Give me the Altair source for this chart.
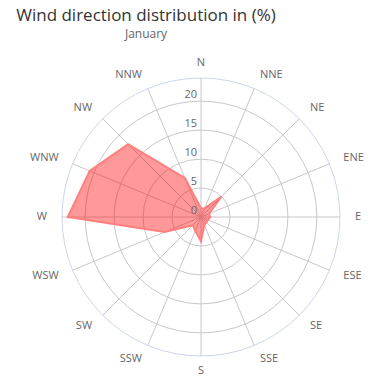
import math
import altair as alt
import pandas as pd

# ---- data ----
directions = ["N", "NNE", "NE", "ENE", "E", "ESE", "SE", "SSE",
              "S", "SSW", "SW", "WSW", "W", "WNW", "NW", "NNW"]
values = [1.5, 1.6, 5.0, 1.5, 1.6, 1.3, 1.3, 1.5,
          4.2, 2.6, 2.0, 6.8, 23.0, 20.8, 17.8, 7.3]
ring_values = [5, 10, 15, 20]
tick_values = [0, 5, 10, 15, 20]
tick_labels = ["0", "5", "10", "15", "20"]
r_max = 24
label_r = 26.6

FONT = "Open Sans"
GRID = "#c8c8c8"

df = pd.DataFrame({"dir": directions, "value": values, "idx": list(range(len(directions)))})
df["side"] = ["mid" if d in ("N", "S") else ("right" if i < 8 else "left")
              for i, d in enumerate(directions)]
rings = pd.DataFrame({"r": ring_values})
outer = pd.DataFrame({"r": [r_max]})
ticks = pd.DataFrame({"v": tick_values, "label": tick_labels})

xs = alt.Scale(domain=[-r_max, r_max], nice=False, zero=False)
ys = alt.Scale(domain=[-r_max, r_max], nice=False, zero=False)
rs = alt.Scale(domain=[0, r_max], range=[0, 139], zero=True)

base = alt.Chart(df).transform_calculate(
    ang="datum.idx * PI / 8",
).transform_calculate(
    px="datum.value * sin(datum.ang)",
    py="datum.value * cos(datum.ang)",
    sx=f"{r_max} * sin(datum.ang)",
    sy=f"{r_max} * cos(datum.ang)",
    lx=f"{label_r} * sin(datum.ang)",
    ly=f"{label_r} * cos(datum.ang)",
    zero="0",
)

ring_layer = alt.Chart(rings).mark_arc(
    theta=0, theta2=2 * math.pi, stroke=GRID, strokeWidth=1, fillOpacity=0
).encode(radius=alt.Radius("r:Q", scale=rs, stack=None))

outer_layer = alt.Chart(outer).mark_arc(
    theta=0, theta2=2 * math.pi, stroke="#ccd6eb", strokeWidth=1, fillOpacity=0
).encode(radius=alt.Radius("r:Q", scale=rs, stack=None))

spokes = base.mark_rule(color=GRID, strokeWidth=1).encode(
    x=alt.X("zero:Q", scale=xs, axis=None),
    y=alt.Y("zero:Q", scale=ys, axis=None),
    x2="sx:Q",
    y2="sy:Q",
)

polygon = base.mark_line(
    interpolate="linear-closed", fill="#ff0000", fillOpacity=0.4,
    stroke="#ff7f7f", strokeWidth=2
).encode(
    x=alt.X("px:Q", scale=xs, axis=None),
    y=alt.Y("py:Q", scale=ys, axis=None),
    order=alt.Order("idx:Q"),
)


def dir_labels(side, align):
    return base.transform_filter(f"datum.side == '{side}'").mark_text(
        align=align, baseline="middle", font=FONT, fontSize=11, color="#666666"
    ).encode(
        x=alt.X("lx:Q", scale=xs, axis=None),
        y=alt.Y("ly:Q", scale=ys, axis=None),
        text="dir:N",
    )


tick_text = alt.Chart(ticks).transform_calculate(zero="0").mark_text(
    align="right", baseline="middle", dx=-4, dy=-6,
    font=FONT, fontSize=11, color="#666666"
).encode(
    x=alt.X("zero:Q", scale=xs, axis=None),
    y=alt.Y("v:Q", scale=ys, axis=None),
    text="label:N",
)

chart = alt.layer(
    ring_layer, outer_layer, spokes, polygon,
    dir_labels("mid", "center"), dir_labels("right", "left"), dir_labels("left", "right"),
    tick_text,
).properties(
    width=278,
    height=278,
    title=alt.TitleParams(
        text="Wind direction distribution in (%)",
        subtitle="January",
        anchor="middle",
        frame="group",
        dx=-55,
        offset=16,
        font=FONT,
        fontSize=17,
        fontWeight="normal",
        color="#333333",
        subtitleFont=FONT,
        subtitleFontSize=12,
        subtitleColor="#666666",
        subtitlePadding=4,
    ),
    autosize=alt.AutoSizeParams(type="none"),
    padding={"left": 62, "top": 78, "right": 42, "bottom": 36},
).configure_view(strokeWidth=0)

chart.save("out.html", embed_options={"renderer": "svg", "actions": False})
